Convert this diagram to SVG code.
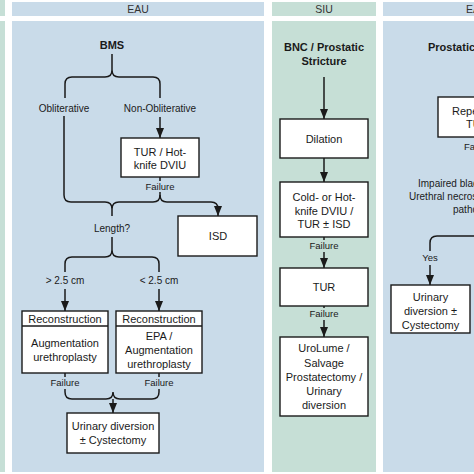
<svg xmlns="http://www.w3.org/2000/svg" width="474" height="474" viewBox="0 0 474 474">
<defs>
<marker id="ah" markerUnits="userSpaceOnUse" markerWidth="10" markerHeight="10" viewBox="0 0 10 10" refX="10" refY="5" orient="auto">
<path d="M0,1 L10,5 L0,9 Z" fill="#1a1a1a"/>
</marker>
<style>
.blue{fill:#c9dbe9}
.green{fill:#c6dfd6}
.hdr{font-family:"Liberation Sans",Arial,sans-serif;font-size:10.5px;fill:#333;text-anchor:middle}
.box{fill:#fff;stroke:#1a1a1a;stroke-width:1.4}
.t{font-family:"Liberation Sans",Arial,sans-serif;font-size:11px;fill:#1a1a1a;text-anchor:middle}
.b{font-family:"Liberation Sans",Arial,sans-serif;font-size:11px;font-weight:bold;fill:#1a1a1a;text-anchor:middle}
.l{font-family:"Liberation Sans",Arial,sans-serif;font-size:10px;fill:#1a1a1a;text-anchor:middle}
.f{font-family:"Liberation Sans",Arial,sans-serif;font-size:9.5px;fill:#1a1a1a;text-anchor:middle}
.s{font-family:"Liberation Sans",Arial,sans-serif;fill:#1a1a1a}
.c{fill:none;stroke:#1a1a1a;stroke-width:1.5}
.a{fill:none;stroke:#1a1a1a;stroke-width:1.5;marker-end:url(#ah)}
</style>
</defs>
<rect width="474" height="474" fill="#fff"/>

<!-- columns -->
<g id="col-left">
<rect class="green" x="0" y="0" width="5" height="16"/>
<rect class="green" x="0" y="21" width="5" height="451"/>
</g>
<g id="col-eau">
<rect class="blue" x="12" y="2" width="252" height="14"/>
<text class="hdr" x="138" y="13">EAU</text>
<rect class="blue" x="12" y="21" width="252" height="451"/>
</g>
<g id="col-siu">
<rect class="green" x="272" y="2" width="104" height="14"/>
<text class="hdr" x="324" y="13">SIU</text>
<rect class="green" x="272" y="21" width="104" height="451"/>
</g>
<g id="col-eau2">
<rect class="blue" x="383" y="2" width="91" height="14"/>
<text class="hdr" x="466" y="13" style="text-anchor:start">EAU</text>
<rect class="blue" x="383" y="21" width="91" height="451"/>
</g>

<!-- connectors -->
<g id="connectors">
<path class="c" d="M112,54 V70 Q112,77 105,77 H72 Q65,77 65,84 V98 M112,70 Q112,77 119,77 H153 Q160,77 160,84 V98"/>
<path class="a" d="M160,117 V138"/>
<path class="c" d="M64,116 V195 Q64,202 71,202 H105 Q112,202 112,209 V216 M112,209 Q112,202 119,202 H153 Q160,202 160,195 V192 M160,177 V181"/>
<path class="a" d="M160,195 Q160,202 167,202 H211 Q218,202 218,209 V216"/>
<path class="c" d="M112,237 V250 Q112,257 105,257 H72 Q65,257 65,264 V272 M112,250 Q112,257 119,257 H152 Q159,257 159,264 V272"/>
<path class="a" d="M65,289 V311"/>
<path class="a" d="M159,289 V311"/>
<path class="c" d="M65,373 V377 M159,373 V377 M65,389 V392 Q65,399 72,399 H106 Q113,399 113,392 Q113,399 120,399 H152 Q159,399 159,392 V389"/>
<path class="a" d="M113,399 V413"/>

<path class="a" d="M324,77 V119"/>
<path class="a" d="M324,158 V182"/>
<path class="c" d="M324,237 V240"/>
<path class="a" d="M324,252 V268"/>
<path class="c" d="M324,306 V308"/>
<path class="a" d="M324,320 V337"/>

<path class="c" d="M474,236 H437 Q430,236 430,243 V251"/>
<path class="a" d="M430,265 V285"/>
</g>

<!-- EAU nodes -->
<g id="bms"><text class="b" x="112" y="49">BMS</text></g>
<g id="obliterative"><text class="l" x="64" y="111.5">Obliterative</text></g>
<g id="non-obliterative"><text class="l" x="160" y="111.5">Non-Obliterative</text></g>
<g id="tur-hot">
<rect class="box" x="121" y="138" width="78" height="39"/>
<text class="t" x="160" y="156">TUR / Hot-</text>
<text class="t" x="160" y="169">knife DVIU</text>
</g>
<g id="failure1"><text class="f" x="160" y="190">Failure</text></g>
<g id="isd">
<rect class="box" x="178" y="216" width="79" height="40"/>
<text class="t" x="218" y="240">ISD</text>
</g>
<g id="length"><text class="l" x="112" y="231.5">Length?</text></g>
<g id="gt25"><text class="l" x="65" y="283.5">&gt; 2.5 cm</text></g>
<g id="lt25"><text class="l" x="159" y="283.5">&lt; 2.5 cm</text></g>
<g id="recon-left">
<rect class="box" x="22" y="311" width="86" height="62"/>
<line class="c" x1="22" y1="326" x2="108" y2="326"/>
<text class="t" x="65" y="322.5">Reconstruction</text>
<text class="t" x="65" y="347">Augmentation</text>
<text class="t" x="65" y="361">urethroplasty</text>
</g>
<g id="recon-right">
<rect class="box" x="116" y="311" width="86" height="62"/>
<line class="c" x1="116" y1="326" x2="202" y2="326"/>
<text class="t" x="159" y="322.5">Reconstruction</text>
<text class="t" x="159" y="340">EPA /</text>
<text class="t" x="159" y="354">Augmentation</text>
<text class="t" x="159" y="368">urethroplasty</text>
</g>
<g id="failure2"><text class="f" x="65" y="386">Failure</text></g>
<g id="failure3"><text class="f" x="159" y="386">Failure</text></g>
<g id="urinary1">
<rect class="box" x="67" y="413" width="92" height="40"/>
<text class="t" x="113" y="430">Urinary diversion</text>
<text class="t" x="113" y="444">± Cystectomy</text>
</g>

<!-- SIU nodes -->
<g id="bnc">
<text class="b" x="324" y="51">BNC / Prostatic</text>
<text class="b" x="324" y="65">Stricture</text>
</g>
<g id="dilation">
<rect class="box" x="280" y="119" width="88" height="39"/>
<text class="t" x="324" y="143">Dilation</text>
</g>
<g id="cold-hot">
<rect class="box" x="280" y="182" width="88" height="55"/>
<text class="t" x="324" y="201">Cold- or Hot-</text>
<text class="t" x="324" y="215">knife DVIU /</text>
<text class="t" x="324" y="228">TUR ± ISD</text>
</g>
<g id="failure4"><text class="f" x="324" y="249">Failure</text></g>
<g id="tur">
<rect class="box" x="280" y="268" width="88" height="38"/>
<text class="t" x="324" y="291">TUR</text>
</g>
<g id="failure5"><text class="f" x="324" y="317">Failure</text></g>
<g id="urolume">
<rect class="box" x="280" y="337" width="88" height="79"/>
<text class="t" x="324" y="352">UroLume /</text>
<text class="t" x="324" y="367">Salvage</text>
<text class="t" x="324" y="381">Prostatectomy /</text>
<text class="t" x="324" y="395">Urinary</text>
<text class="t" x="324" y="409">diversion</text>
</g>

<!-- EAU (right) nodes -->
<g id="prostatic"><text class="s" x="428" y="51" font-size="11" font-weight="bold">Prostatic</text></g>
<g id="repeat">
<rect class="box" x="438" y="97" width="50" height="40"/>
<text class="s" x="452" y="115" font-size="11">Repeat</text>
<text class="s" x="466" y="128" font-size="11">TUR</text>
</g>
<g id="failure6"><text class="s" x="464" y="150" font-size="9.5">Failure</text></g>
<g id="impaired">
<text class="s" x="418" y="186.5" font-size="10">Impaired bladder</text>
<text class="s" x="409" y="199.5" font-size="10">Urethral necrosis</text>
<text class="s" x="453" y="212.5" font-size="10">pathology</text>
</g>
<g id="yes"><text class="f" x="430" y="261">Yes</text></g>
<g id="urinary2">
<rect class="box" x="391" y="285" width="79" height="48"/>
<text class="t" x="430.5" y="301">Urinary</text>
<text class="t" x="430.5" y="315">diversion ±</text>
<text class="t" x="430.5" y="329">Cystectomy</text>
</g>
</svg>
